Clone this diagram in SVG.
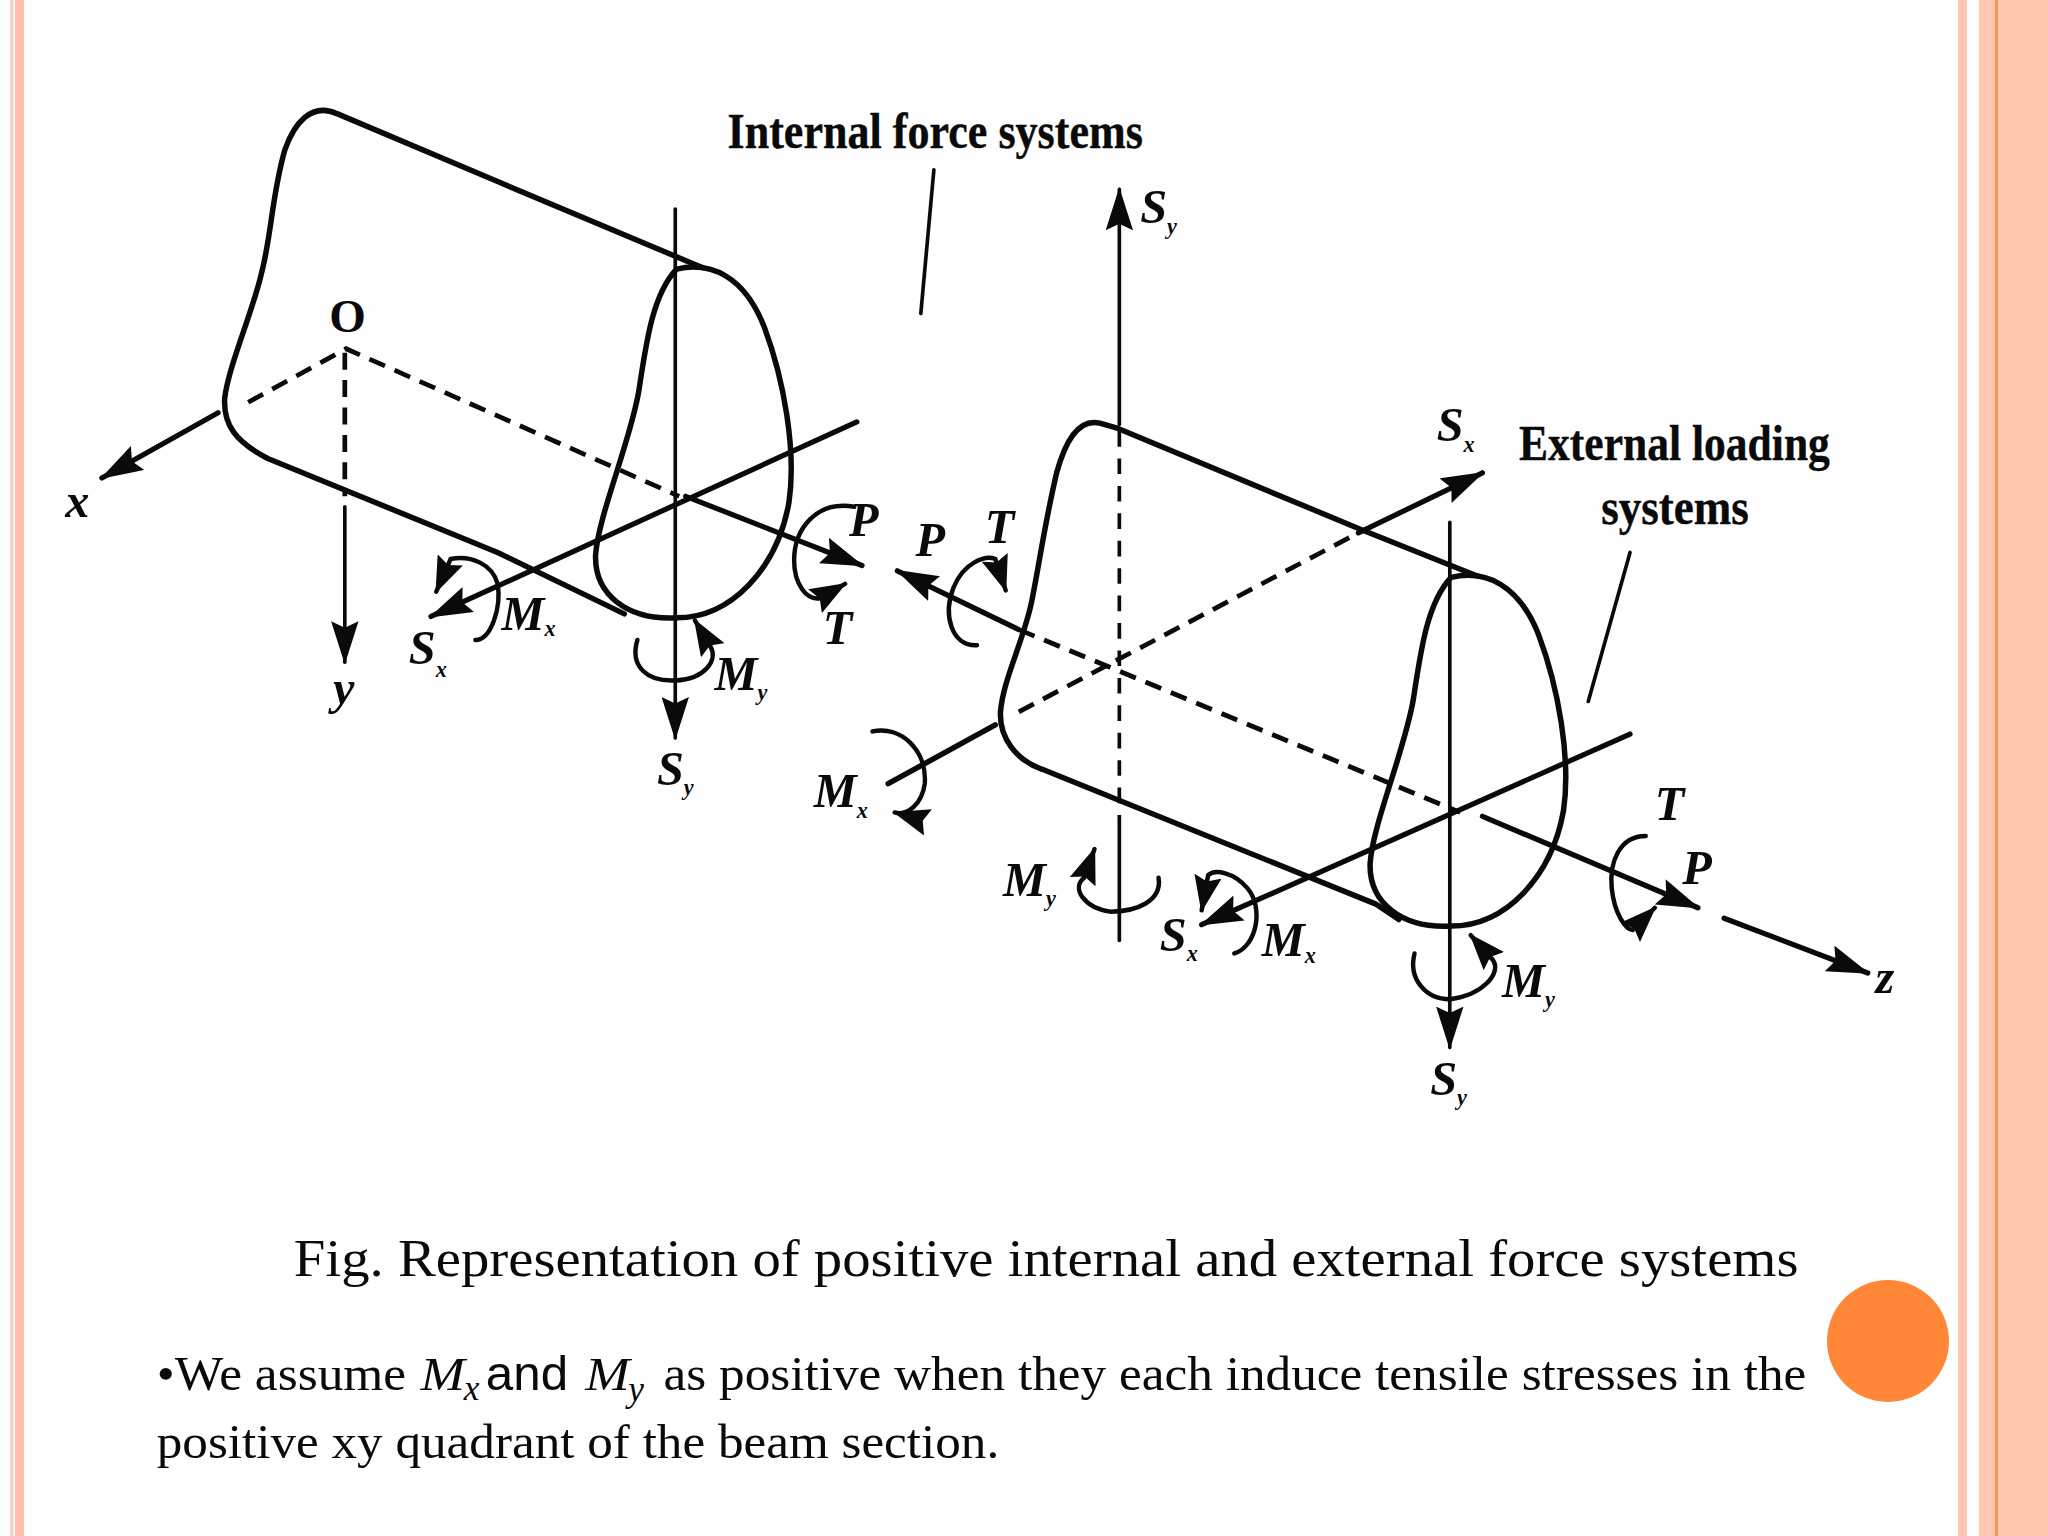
<svg xmlns="http://www.w3.org/2000/svg" width="2048" height="1536" viewBox="0 0 2048 1536">
<style>
.o{fill:none;stroke:#0a0a0a;stroke-width:4.2;stroke-linecap:round;stroke-linejoin:round}
.a{fill:none;stroke:#0a0a0a;stroke-width:4;stroke-linecap:round;marker-end:url(#h)}
.t{fill:none;stroke:#0a0a0a;stroke-width:2.8;stroke-linecap:round}
.ta{fill:none;stroke:#0a0a0a;stroke-width:2.8;stroke-linecap:round;marker-end:url(#h)}
.c{fill:none;stroke:#0a0a0a;stroke-width:3.4;stroke-linecap:round;marker-end:url(#k)}
.d{fill:none;stroke:#0a0a0a;stroke-width:3.6;stroke-dasharray:13 8}
.dt{fill:none;stroke:#0a0a0a;stroke-width:2.8;stroke-dasharray:12 9}
text{fill:#0a0a0a;font-family:"Liberation Serif",serif}
.l{font-size:37px;font-style:italic;font-weight:bold}
.s{font-size:17px;font-style:italic;font-weight:bold}
.h{font-size:38px;font-weight:bold;stroke:#0a0a0a;stroke-width:.3}
.b{font-size:36.5px}
.m{font-size:36px;font-style:italic}
.u{font-size:27px;font-style:italic}
</style>
<defs>
<marker id="h" viewBox="0 0 10 10" refX="9.5" refY="5" markerWidth="33" markerHeight="21" markerUnits="userSpaceOnUse" orient="auto" preserveAspectRatio="none"><path d="M0,0 L10,5 L0,10 L1.5,5 Z" fill="#0a0a0a"/></marker>
<marker id="k" viewBox="0 0 10 10" refX="9.5" refY="5" markerWidth="28" markerHeight="21" markerUnits="userSpaceOnUse" orient="auto" preserveAspectRatio="none"><path d="M0,0 L10,5 L0,10 L1.5,5 Z" fill="#0a0a0a"/></marker>
</defs>
<rect id="background" width="2048" height="1536" fill="#fefefe"/>
<g id="frame">
<rect x="10" y="0" width="3.5" height="1536" fill="#f9cfc6"/>
<rect x="15" y="0" width="9" height="1536" fill="#ffbfac"/>
<rect x="1958" y="0" width="9" height="1536" fill="#ffc6b6"/>
<rect x="1979" y="0" width="69" height="1536" fill="#ffc8b0"/>
<rect x="1995" y="0" width="3" height="1536" fill="#f79552"/>
<circle cx="1888" cy="1341" r="61" fill="#ff8737"/>
</g>
<g transform="scale(1.30612)">
<g id="beam-internal">
<path class="o" d="M538,205 L381,139 L258,87 C238,78 225,95 218,115 C208,150 208,180 200,210 C193,240 175,280 172,305 C171,325 180,338 205,351 L381,423 L478,470"/>
<path class="o" d="M518,206 C545,200 570,212 585,250 C600,290 610,345 604,385 C595,435 560,473 518,473 C480,475 455,455 456,425 C458,395 482,340 489,300 C495,260 500,225 518,206"/>
</g>
<g id="beam-external">
<path class="o" d="M1131,441 L1041,405 L856,328 L842,324 C825,320 815,340 809,362 C800,400 796,430 790,460 C784,490 768,520 766,545 C765,565 778,582 798,589 L1053,692 L1071,704"/>
<path class="o" d="M1111,442 C1138,436 1163,448 1178,486 C1193,526 1203,581 1197,621 C1188,671 1153,709 1111,709 C1073,711 1048,691 1049,661 C1051,631 1075,576 1082,536 C1088,496 1093,461 1111,442"/>
</g>
<g id="connectors">
<path class="d" d="M190,308 L265,267 L520,380"/>
<path class="d" d="M264,270 V380"/>
<path class="a" d="M167,316 L78,366"/>
<path class="ta" d="M264,388 V507"/>
<path class="a" d="M525,380 L660,433"/>
<path class="ta" d="M517,160 V565"/>
<path class="a" d="M656,323 L330,472"/>
<path class="t" d="M715,130 L705,240"/>
<path class="ta" d="M857,325 V145"/>
<path class="dt" d="M857,330 V630"/>
<path class="t" d="M857,630 V720"/>
<path class="a" d="M780,482 L687,437"/>
<path class="d" d="M780,482 L1118,622"/>
<path class="a" d="M1135,625 L1300,695"/>
<path class="a" d="M1320,703 L1430,745"/>
<path class="d" d="M780,545 L1040,408"/>
<path class="a" d="M1040,408 L1135,362"/>
<path class="a" d="M1248,562 L920,708"/>
<path class="ta" d="M1110,400 V802"/>
<path class="o" d="M762,555 L680,600"/>
<path class="t" d="M1248,423 L1216,537"/>
<path class="c" d="M364,490 C376,490 384,465 381,447 C377,432 361,425 345,428 L334,453"/>
<path class="c" d="M654,388 C625,383 608,405 608,429 C608,448 618,460 628,458 L647,447"/>
<path class="c" d="M488,490 C482,510 495,522 517,521 C540,520 550,505 544,495 L532,475"/>
<path class="c" d="M748,494 C728,495 722,470 730,450 C738,430 755,425 762,428 L770,452"/>
<path class="c" d="M668,560 C690,555 710,575 708,600 C706,615 695,625 685,622"/>
<path class="c" d="M887,672 C890,690 870,698 850,698 C830,695 820,680 830,672 L838,650"/>
<path class="c" d="M945,730 C962,725 968,695 955,680 C945,668 930,665 925,670 L920,697"/>
<path class="c" d="M1083,730 C1078,750 1092,765 1110,765 C1135,762 1150,745 1143,735 L1126,716"/>
<path class="c" d="M1260,640 C1240,640 1232,660 1234,680 C1236,700 1245,712 1250,712 L1267,695"/>
</g>
<g id="labels">
<text class="h" x="557" y="113" textLength="318" lengthAdjust="spacingAndGlyphs">Internal force systems</text>
<text class="h" x="1163" y="352" textLength="238" lengthAdjust="spacingAndGlyphs">External loading</text>
<text class="h" x="1226" y="401" textLength="113" lengthAdjust="spacingAndGlyphs">systems</text>
<text x="252" y="254" font-size="36" font-weight="bold">O</text>
<text class="l" x="50" y="396">x</text>
<text class="l" x="255" y="539">y</text>
<text class="l" x="313" y="508">S<tspan class="s" dy="10">x</tspan></text>
<text class="l" x="384" y="482">M<tspan class="s" dy="5">x</tspan></text>
<text class="l" x="547" y="528">M<tspan class="s" dy="8">y</tspan></text>
<text class="l" x="503" y="601">S<tspan class="s" dy="8">y</tspan></text>
<text class="l" x="650" y="410">P</text>
<text class="l" x="630" y="493">T</text>
<text class="l" x="701" y="426">P</text>
<text class="l" x="754" y="416">T</text>
<text class="l" x="873" y="171">S<tspan class="s" dy="8">y</tspan></text>
<text class="l" x="1100" y="338">S<tspan class="s" dy="8">x</tspan></text>
<text class="l" x="623" y="618">M<tspan class="s" dy="8">x</tspan></text>
<text class="l" x="768" y="686">M<tspan class="s" dy="8">y</tspan></text>
<text class="l" x="888" y="728">S<tspan class="s" dy="8">x</tspan></text>
<text class="l" x="966" y="732">M<tspan class="s" dy="5">x</tspan></text>
<text class="l" x="1150" y="763">M<tspan class="s" dy="8">y</tspan></text>
<text class="l" x="1095" y="838">S<tspan class="s" dy="8">y</tspan></text>
<text class="l" x="1267" y="628">T</text>
<text class="l" x="1288" y="677">P</text>
<text class="l" x="1436" y="760">z</text>
</g>
<g id="caption">
<text x="225" y="977" font-size="41" textLength="1152" lengthAdjust="spacingAndGlyphs">Fig. Representation of positive internal and external force systems</text>
<text class="b" x="120" y="1064" textLength="191" lengthAdjust="spacingAndGlyphs">•We assume</text>
<text class="m" x="322" y="1064" textLength="34" lengthAdjust="spacingAndGlyphs">M</text><text class="u" x="355" y="1072">x</text>
<text x="372" y="1064" font-size="37" style="font-family:'Liberation Sans',sans-serif" textLength="63" lengthAdjust="spacingAndGlyphs">and</text>
<text class="m" x="448" y="1064" textLength="34" lengthAdjust="spacingAndGlyphs">M</text><text class="u" x="481" y="1073">y</text>
<text class="b" x="508" y="1064" textLength="875" lengthAdjust="spacingAndGlyphs">as positive when they each induce tensile stresses in the</text>
<text class="b" x="120" y="1116" textLength="645" lengthAdjust="spacingAndGlyphs">positive xy quadrant of the beam section.</text>
</g>
</g>
</svg>
